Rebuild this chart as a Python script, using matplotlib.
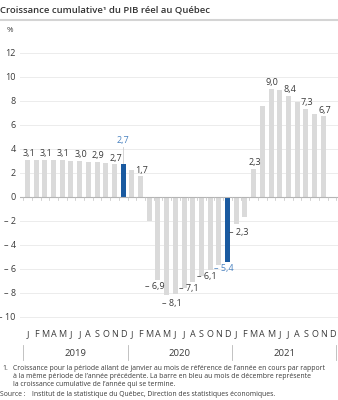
import numpy as np
import matplotlib
matplotlib.use("Agg")
import matplotlib.pyplot as plt
from matplotlib.lines import Line2D
import matplotlib.transforms as mtransforms

plt.rcParams['font.family'] = ['Open Sans', 'DejaVu Sans']

# ---- data ----
months = ["J", "F", "M", "A", "M", "J", "J", "A", "S", "O", "N", "D"]
years = ["2019", "2020", "2021"]
values_2019 = [3.1, 3.1, 3.1, 3.1, 3.1, 3.0, 3.0, 2.9, 2.9, 2.8, 2.7, 2.7]
values_2020 = [2.2, 1.7, -2.0, -6.9, -8.2, -8.1, -7.6, -7.1, -6.6, -6.1, -5.7, -5.4]
values_2021 = [-2.3, -1.7, 2.3, 7.6, 9.0, 8.9, 8.4, 7.9, 7.3, 6.9, 6.7, np.nan]
labelled = [0, 2, 4, 6, 8, 10, 11, 13, 15, 17, 19, 21, 23, 24, 26, 28, 30, 32, 34]
december_bars = [11, 23]
yticks = [-10, -8, -6, -4, -2, 0, 2, 4, 6, 8, 10, 12]

title = "Croissance cumulative\u00b9 du PIB réel au Québec"
note_lines = [
    "Croissance pour la période allant de janvier au mois de référence de l\u2019année en cours par rapport",
    "à la même période de l\u2019année précédente. La barre en bleu au mois de décembre représente",
    "la croissance cumulative de l\u2019année qui se termine.",
]
source = "Institut de la statistique du Québec, Direction des statistiques économiques."

values = np.array(values_2019 + values_2020 + values_2021, dtype=float)
n = len(values)
x = np.arange(n)

GRAY = "#dadada"
BLUE = "#1a5aa0"
BLUE_TXT = "#4a82c0"
TXT = "#3a3a3a"

W, H = 338, 400
fig = plt.figure(figsize=(W / 100, H / 100), dpi=100)

def fx(px):
    return px / W

def fy(py):
    return 1 - py / H

# axes: 12 at y=52.7px, -10 at y=316.7px -> 12 px / unit
ylo, yhi = -10.5, 12.5
ppu = 12.0
top_px = 52.7 - (yhi - 12) * ppu
bot_px = 316.7 + (-10 - ylo) * ppu
left_px, right_px = 20, 338
ax = fig.add_axes([fx(left_px), fy(bot_px), fx(right_px - left_px), (bot_px - top_px) / H])
ax.set_ylim(ylo, yhi)
ax.set_xlim(-0.86, 35.7)
for s in ax.spines.values():
    s.set_visible(False)

LBL = 6.5
ax.set_yticks(yticks)
ax.set_yticklabels([("\u2013 " + str(abs(t))) if t < 0 else str(t) for t in yticks],
                   fontsize=LBL, color=TXT)
ax.tick_params(axis='y', length=0, pad=3)
for t in yticks:
    if t != 0:
        ax.axhline(t, color="#ececec", lw=0.7, zorder=0)

colors = [BLUE if i in december_bars else GRAY for i in range(n)]
ax.bar(x, values, width=0.58, color=colors, zorder=2)
ax.axhline(0, color="#b5b5b5", lw=0.8, zorder=3)
# small ticks on zero line between months
for b in np.arange(-0.5, n, 1.0):
    ax.plot([b, b], [0, -0.3], color="#c0c0c0", lw=0.5, zorder=3)

ax.set_xticks(x)
ax.set_xticklabels(months * 3, fontsize=LBL, color=TXT)
ax.tick_params(axis='x', length=0, pad=5.5)

def fmt(v):
    s = f"{abs(v):.1f}".replace(".", ",")
    return ("\u2013 " + s) if v < 0 else s

for i in labelled:
    v = values[i]
    col = BLUE_TXT if i in december_bars else TXT
    if i == 11:
        ax.annotate(fmt(v), (i, v), xytext=(0, 14), textcoords="offset points",
                    ha="center", va="bottom", fontsize=LBL, color=col)
        ax.plot([i, i], [v + 0.1, v + 1.45], color="#cfcfcf", lw=0.6, zorder=1)
    elif v >= 0:
        ax.annotate(fmt(v), (i, v), xytext=(0.8, 1.2), textcoords="offset points",
                    ha="center", va="bottom", fontsize=LBL, color=col)
    else:
        dx = -2.5
        dy = -1.5
        if i == 17:
            dy = -4
        if i == 24:
            dx = 2.0
            dy = -3
        ax.annotate(fmt(v), (i, v), xytext=(dx, dy), textcoords="offset points",
                    ha="center", va="top", fontsize=LBL, color=col)

# year labels and separators
trans = mtransforms.blended_transform_factory(ax.transData, fig.transFigure)
for k, yr in enumerate(years):
    ax.text(k * 12 + 5.5, fy(353), yr, transform=trans, ha="center", va="center",
            fontsize=6.8, color=TXT, clip_on=False)
for b in [-0.5, 11.5, 23.5, 35.5]:
    fig.add_artist(Line2D([b, b], [fy(345), fy(360)], transform=trans,
                          color="#b8b8b8", lw=0.6))

# title, rule, unit
fig.text(fx(0), fy(10), title, ha="left", va="center", fontsize=6.8,
         fontweight="semibold", color="#333333")
fig.add_artist(Line2D([0, 1], [fy(19.5), fy(19.5)], transform=fig.transFigure,
                      color="#d4d4d4", lw=1.5))
fig.text(fx(7), fy(31), "%", ha="left", va="center", fontsize=5.8, color=TXT)

# footnotes
fs = 4.95
fig.text(fx(2), fy(369), "1.", ha="left", va="center", fontsize=fs, color=TXT)
for j, line in enumerate(note_lines):
    fig.text(fx(13), fy(369 + 7.7 * j), line, ha="left", va="center", fontsize=fs, color=TXT)
fig.text(fx(0), fy(394.5), "Source :", ha="left", va="center", fontsize=fs, color=TXT)
fig.text(fx(32), fy(394.5), source, ha="left", va="center", fontsize=fs, color=TXT)

fig.savefig("out.png", dpi=100)
